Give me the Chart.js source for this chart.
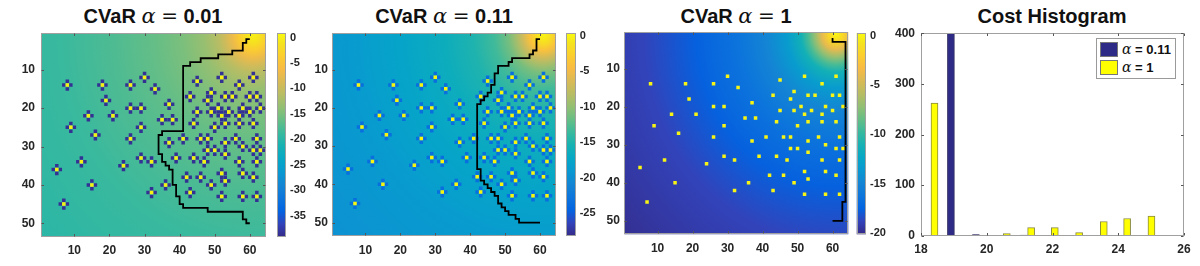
<!DOCTYPE html>
<html><head><meta charset="utf-8">
<script src="https://cdn.jsdelivr.net/npm/chart.js@4.4.0/dist/chart.umd.min.js"></script>
<style>
html,body{margin:0;padding:0;background:#fff;width:1200px;height:266px;overflow:hidden;font-family:"Liberation Sans",Arial,sans-serif;}
canvas{position:absolute;top:0;}
.title{position:absolute;top:4px;font-weight:bold;font-size:20px;line-height:24px;color:#111;white-space:nowrap;transform:translateX(-50%);}
.al{font-family:"DejaVu Serif",serif;font-style:italic;font-weight:normal;font-size:21px;}
.eq{font-family:"DejaVu Serif",serif;font-weight:normal;}
#leg{position:absolute;left:1096px;top:38px;width:80px;height:41px;border:1px solid #9a9a9a;background:#fff;box-sizing:border-box;}
.lr{position:absolute;left:3px;height:16px;}
.sw{position:absolute;left:0;top:0;width:18px;height:15px;box-sizing:border-box;border:1px solid #777;}
.lt{position:absolute;left:22px;top:-1px;font-weight:bold;font-size:13px;line-height:17px;white-space:nowrap;color:#111;}
.lt i{font-family:"DejaVu Serif",serif;font-weight:normal;font-size:14px;}
</style></head><body>
<div class="title" style="left:153px">CVaR <span class="al">α</span> <span class="eq">=</span> 0.01</div>
<div class="title" style="left:444px">CVaR <span class="al">α</span> <span class="eq">=</span> 0.11</div>
<div class="title" style="left:736px">CVaR <span class="al">α</span> <span class="eq">=</span> 1</div>
<div class="title" style="left:1052px">Cost Histogram</div>
<canvas id="h1" width="272" height="266" style="left:0px"></canvas>
<canvas id="c1" width="40" height="266" style="left:274px"></canvas>
<canvas id="h2" width="270" height="266" style="left:290px"></canvas>
<canvas id="c2" width="40" height="266" style="left:562px"></canvas>
<canvas id="h3" width="262" height="266" style="left:590px"></canvas>
<canvas id="c3" width="45" height="266" style="left:852px"></canvas>
<canvas id="hist" width="320" height="266" style="left:880px"></canvas>
<div id="leg">
  <div class="lr" style="top:3px"><span class="sw" style="background:#2e2b86"></span><span class="lt"><i>α</i> = 0.11</span></div>
  <div class="lr" style="top:21px"><span class="sw" style="background:#ffff00"></span><span class="lt"><i>α</i> = 1</span></div>
</div>
<script>
// ---------------- DATA ----------------
const X_TICKS = [10, 20, 30, 40, 50, 60];
const Y_TICKS = [10, 20, 30, 40, 50];
const GRID_X = [0.5, 64.5];
const GRID_Y = [0.5, 53.5];
const GOAL = [61, 1];
// cost field sampled along distance from goal (grid units) -> value
const FIELD_DIST = [0, 2, 4, 6, 8, 10, 14, 20, 28, 40, 55, 80];
const FIELD_VAL  = [0, -1.5, -4, -7, -9.3, -11.2, -13.3, -15.0, -16.3, -17.6, -18.8, -19.8];
// obstacle cells
const OBST_X = [8,18,26,30,33,19,26,29,14,21,9,29,16,26,37,35,38,37,41,29,32,39,24,12,5,15,7,32,36,
  43,45,52,61,57,49,48,53,55,60,62,45,49,51,54,52,57,58,60,63,44,50,53,57,61,46,48,56,62,53,58,48,50,53,61,63,44,47,57,62,42,46,52,49,53,58,61,43,52,58,62];
const OBST_Y = [14,14,14,12,15,18,20,20,22,22,25,25,27,28,19,23,23,29,28,33,34,33,35,34,36,40,45,42,40,
  17,13,12,12,14,16,18,17,17,17,17,21,21,20,21,22,22,20,21,20,24,25,24,24,24,28,28,28,28,29,30,31,31,32,31,31,33,34,34,34,38,38,37,40,39,37,38,42,43,43,43];
// obstacle neighbour values (halo) per panel
const HALO_VAL = [-38.5, -23.5, null];
// paths
const PATH_001 = [[60,2],[59,3],[58,5],[55,6],[51,7],[46,8],[43,9],[41,10],[41,26],[35,27],[34,28],[34,32],[35,34],[36,35],[37,36],[38,37],[38,40],[39,43],[40,45],[41,46],[47,46],[48,47],[57,47],[58,48],[58,49],[59,50],[60,50]];
const PATH_011 = [[60,2],[59,3],[59,5],[58,6],[57,7],[52,8],[51,9],[48,10],[48,11],[47,12],[47,14],[46,15],[46,16],[45,17],[44,18],[43,19],[42,20],[42,36],[43,37],[43,39],[44,40],[45,41],[46,42],[47,43],[48,44],[48,45],[49,46],[50,47],[51,48],[53,49],[54,50],[60,50]];
const PATH_1   = [[60,2],[60,3],[63.7,3],[63.7,45],[62.8,45],[62.8,50],[60,50]];
// colour bar limits and ticks
const CB_LIMITS = [[-39.2, 0.9], [-28.2, 0.4], [-20.1, 0.25]];
const CB_TICKS_001 = [0, -5, -10, -15, -20, -25, -30, -35];
const CB_TICKS_011 = [0, -5, -10, -15, -20, -25];
const CB_TICKS_1   = [0, -5, -10, -15, -20];
// histogram
const HIST_X_TICKS = [18, 20, 22, 24, 26];
const HIST_Y_TICKS = [0, 100, 200, 300, 400];
const HIST_LABELS = ['α = 0.11', 'α = 1'];
const HIST_A011_X = [18.91, 19.67, 21.13];
const HIST_A011_Y = [400, 2, 1];
const HIST_A1_X = [18.41, 20.61, 21.35, 22.07, 22.81, 23.56, 24.27, 25.01];
const HIST_A1_Y = [262, 4, 16, 16, 6, 28, 34, 39];

// ---------------- STYLE ----------------
const PARULA = [
 [0,53,42,135],[0.0635,50,67,186],[0.127,3,99,225],[0.19,13,117,220],[0.254,20,133,212],[0.317,9,152,209],
 [0.381,6,167,198],[0.444,21,177,180],[0.508,56,185,158],[0.571,101,190,134],[0.635,146,191,115],
 [0.698,183,189,100],[0.762,217,186,86],[0.825,248,187,68],[0.889,252,206,46],[0.952,245,228,29],[1,249,251,14]];
function cmap(t){
  t = Math.max(0, Math.min(1, t));
  for (let i = 0; i < PARULA.length - 1; i++) {
    const a = PARULA[i], b = PARULA[i+1];
    if (t <= b[0]) {
      const u = (t - a[0]) / (b[0] - a[0]);
      return 'rgb(' + [1,2,3].map(k => Math.round(a[k] + (b[k]-a[k])*u)).join(',') + ')';
    }
  }
  const l = PARULA[PARULA.length-1];
  return 'rgb(' + l[1] + ',' + l[2] + ',' + l[3] + ')';
}
const FONT = {family:'"Liberation Sans", Arial, sans-serif', size:12, weight:'bold'};
const CB_FONT = {family:'"Liberation Sans", Arial, sans-serif', size:11, weight:'bold'};
const TICK_COLOR = '#262626';
const NEIGH = [[1,0],[-1,0],[0,1],[0,-1]];

const fieldPlugin = {
  id: 'field',
  beforeDatasetsDraw(chart, args, o) {
    const {ctx, chartArea: a, scales: {x, y}} = chart;
    const [lo, hi] = o.range;
    ctx.save();
    ctx.beginPath(); ctx.rect(a.left, a.top, a.right - a.left, a.bottom - a.top); ctx.clip();
    const cx = x.getPixelForValue(GOAL[0]), cy = y.getPixelForValue(GOAL[1]);
    const ux = Math.abs(x.getPixelForValue(1) - x.getPixelForValue(0));
    const uy = Math.abs(y.getPixelForValue(1) - y.getPixelForValue(0));
    ctx.translate(cx, cy); ctx.scale(ux, uy);
    const R = FIELD_DIST[FIELD_DIST.length - 1];
    const g = ctx.createRadialGradient(0, 0, 0, 0, 0, R);
    FIELD_DIST.forEach((d, i) => g.addColorStop(d / R, cmap((FIELD_VAL[i] - lo) / (hi - lo))));
    ctx.fillStyle = g;
    ctx.fillRect(-R, -R, 2 * R, 2 * R);
    ctx.restore();
  }
};
const cbPlugin = {
  id: 'cbar',
  beforeDatasetsDraw(chart, args, o) {
    const {ctx, chartArea: a, scales: {y}} = chart;
    const [lo, hi] = o.range;
    const g = ctx.createLinearGradient(0, y.getPixelForValue(lo), 0, y.getPixelForValue(hi));
    PARULA.forEach(p => g.addColorStop(p[0], 'rgb(' + p[1] + ',' + p[2] + ',' + p[3] + ')'));
    ctx.save();
    ctx.fillStyle = g;
    ctx.fillRect(a.left, a.top, a.right - a.left, a.bottom - a.top);
    ctx.restore();
  }
};
const boxPlugin = {
  id: 'box',
  afterDatasetsDraw(chart, args, o) {
    const {ctx, chartArea: a} = chart;
    ctx.save();
    const L = Math.round(a.left) + 0.5, T = Math.round(a.top) + 0.5, R = Math.round(a.right) - 0.5, B = Math.round(a.bottom) - 0.5;
    ctx.strokeStyle = o.color || '#a0a0a0'; ctx.lineWidth = 1;
    ctx.strokeRect(L, T, R - L, B - T);
    if (o.ticks) {
      const tl = 2.5;
      ctx.beginPath();
      const x = chart.scales.x, y = chart.scales.y;
      if (x.options.display !== false) x.ticks.forEach(t => {
        const p = Math.round(x.getPixelForValue(t.value)) + 0.5;
        ctx.moveTo(p, B); ctx.lineTo(p, B - tl); ctx.moveTo(p, T); ctx.lineTo(p, T + tl);
      });
      y.ticks.forEach(t => {
        const p = Math.round(y.getPixelForValue(t.value)) + 0.5;
        ctx.moveTo(L, p); ctx.lineTo(L + tl, p); ctx.moveTo(R, p); ctx.lineTo(R - tl, p);
      });
      ctx.strokeStyle = '#555'; ctx.stroke();
    }
    ctx.restore();
  }
};

function setTicks(arr) { return s => { s.ticks = arr.map(v => ({value: v})); }; }
function cellR(c) { const s = c.chart.scales.x; return Math.abs(s.getPixelForValue(1) - s.getPixelForValue(0)) / Math.SQRT2; }

function heat(id, canvasLeft, canvasW, area, range, halo, path, ypad) {
  const [aL, aT, aR, aB] = area;
  const [lo, hi] = range;
  const norm = v => (v - lo) / (hi - lo);
  const ds = [];
  ds.push({data: path.map(p => ({x: p[0], y: p[1]})), showLine: true, stepped: 'before',
    borderColor: '#000', borderWidth: 1.8, pointRadius: 0, fill: false});
  ds.push({data: OBST_X.map((x, i) => ({x, y: OBST_Y[i]})), pointStyle: 'rect', pointRadius: cellR,
    pointHoverRadius: cellR, backgroundColor: cmap(norm(0)), borderWidth: 0});
  if (halo !== null) {
    const hd = [];
    OBST_X.forEach((x, i) => NEIGH.forEach(n => hd.push({x: x + n[0], y: OBST_Y[i] + n[1]})));
    ds.push({data: hd, pointStyle: 'rect', pointRadius: cellR, pointHoverRadius: cellR,
      backgroundColor: cmap(norm(halo)), borderWidth: 0});
  }
  new Chart(document.getElementById(id), {
    type: 'scatter',
    data: {datasets: ds},
    plugins: [fieldPlugin, boxPlugin],
    options: {
      responsive: false, animation: false, events: [], clip: true,
      layout: {padding: {left: 0, top: aT, right: canvasLeft + canvasW - aR, bottom: 0}},
      plugins: {legend: {display: false}, tooltip: {enabled: false}, field: {range}, box: {ticks: true}},
      scales: {
        x: {type: 'linear', min: GRID_X[0], max: GRID_X[1], afterBuildTicks: setTicks(X_TICKS),
          afterFit: s => { s.height = 266 - aB; },
          grid: {display: false, drawTicks: false}, border: {display: false},
          ticks: {padding: 7, font: FONT, color: TICK_COLOR, maxRotation: 0, autoSkip: false}},
        y: {type: 'linear', reverse: true, min: GRID_Y[0], max: GRID_Y[1], afterBuildTicks: setTicks(Y_TICKS),
          afterFit: s => { s.width = aL - canvasLeft; },
          grid: {display: false, drawTicks: false}, border: {display: false},
          ticks: {padding: ypad, font: FONT, color: TICK_COLOR, autoSkip: false}}
      }
    }
  });
}

function cbar(id, canvasLeft, canvasW, area, range, ticks) {
  const [aL, aT, aR, aB] = area;
  new Chart(document.getElementById(id), {
    type: 'scatter',
    data: {datasets: []},
    plugins: [cbPlugin, boxPlugin],
    options: {
      responsive: false, animation: false, events: [],
      layout: {padding: {left: aL - canvasLeft, top: aT, right: 0, bottom: 266 - aB}},
      plugins: {legend: {display: false}, tooltip: {enabled: false}, cbar: {range}, box: {ticks: false}},
      scales: {
        x: {display: false, min: 0, max: 1},
        y: {position: 'right', min: range[0], max: range[1], afterBuildTicks: setTicks(ticks),
          afterFit: s => { s.width = canvasLeft + canvasW - aR; },
          grid: {display: false, drawTicks: false}, border: {display: false},
          ticks: {padding: 4, font: CB_FONT, color: TICK_COLOR, autoSkip: false, callback: v => String(v)}}
      }
    }
  });
}

heat('h1', 0, 272, [41, 33.3, 265.6, 236.7], CB_LIMITS[0], HALO_VAL[0], PATH_001, 6);
cbar('c1', 274, 40, [277, 33, 286, 237], CB_LIMITS[0], CB_TICKS_001);
heat('h2', 290, 270, [332.3, 33.3, 555.7, 236], CB_LIMITS[1], HALO_VAL[1], PATH_011, 4.5);
cbar('c2', 562, 40, [566, 33, 575.7, 236], CB_LIMITS[1], CB_TICKS_011);
heat('h3', 590, 262, [624.3, 32.3, 848.3, 234.3], CB_LIMITS[2], HALO_VAL[2], PATH_1, 4.5);
cbar('c3', 852, 45, [856.7, 33, 866, 234.3], CB_LIMITS[2], CB_TICKS_1);

// histogram
(function(){
  const canvasLeft = 880, canvasW = 320;
  const [aL, aT, aR, aB] = [921, 33.3, 1184, 235.7];
  new Chart(document.getElementById('hist'), {
    type: 'bar',
    data: {datasets: [
      {label: HIST_LABELS[0], data: HIST_A011_X.map((x, i) => ({x, y: HIST_A011_Y[i]})),
        backgroundColor: '#2e2b86', borderColor: '#2a275e', borderWidth: 1, barThickness: 7, grouped: false},
      {label: HIST_LABELS[1], data: HIST_A1_X.map((x, i) => ({x, y: HIST_A1_Y[i]})),
        backgroundColor: '#ffff00', borderColor: '#8a8a40', borderWidth: 1, barThickness: 7, grouped: false}
    ]},
    plugins: [boxPlugin],
    options: {
      responsive: false, animation: false, events: [],
      layout: {padding: {left: 0, top: aT, right: canvasLeft + canvasW - aR, bottom: 0}},
      plugins: {legend: {display: false}, tooltip: {enabled: false}, box: {ticks: true}},
      scales: {
        x: {type: 'linear', offset: false, min: 18, max: 26, afterBuildTicks: setTicks(HIST_X_TICKS),
          afterFit: s => { s.height = 266 - aB; },
          grid: {display: false, drawTicks: false, offset: false}, border: {display: false},
          ticks: {padding: 7, font: FONT, color: TICK_COLOR, maxRotation: 0, autoSkip: false}},
        y: {type: 'linear', min: 0, max: 400, afterBuildTicks: setTicks(HIST_Y_TICKS),
          afterFit: s => { s.width = aL - canvasLeft; },
          grid: {display: false, drawTicks: false}, border: {display: false},
          ticks: {padding: 6, font: FONT, color: TICK_COLOR, autoSkip: false}}
      }
    }
  });
})();
</script>
</body></html>
